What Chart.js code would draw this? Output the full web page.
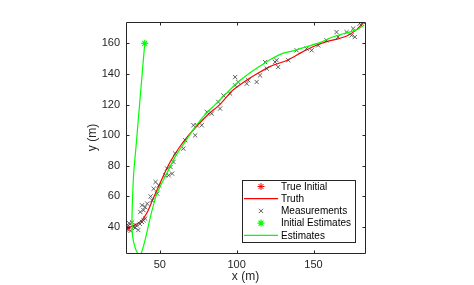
<!DOCTYPE html>
<html>
<head>
<meta charset="utf-8">
<script src="https://cdn.jsdelivr.net/npm/chart.js@4.4.0/dist/chart.umd.min.js"></script>
<style>
  html, body { margin: 0; padding: 0; background: #fff; }
  canvas { display: block; }
</style>
</head>
<body>
<canvas id="track" width="474" height="285"></canvas>
<script>
// values, in metres
var trueInitX = [28.6];
var trueInitY = [39];

var truthX = [28.6, 33, 38, 42, 45, 49, 53, 57, 62, 68, 75, 82, 89, 97, 105, 113, 122, 133, 142, 150, 158, 166, 172, 178, 182.5];
var truthY = [39, 41, 44, 50, 57, 66, 75, 83, 91, 99, 107, 114, 120, 129, 135, 140, 145, 149, 154, 158, 161, 163, 165, 169, 173.5];

var measX = [28.6, 29.7, 31, 32, 33, 35, 36, 37, 38.4, 39.4, 40.5, 34, 30,
             37.3, 39.4, 40.5, 38.4, 41.8, 45, 44, 47.2, 48.3, 49.4, 46,
             53.7, 54.8, 57, 55.7, 58, 58.9,
             60, 65.4, 66.5, 73, 71.9, 74, 77.3, 80.6, 83.8, 89.2, 88.1, 91.4, 95.7, 99, 101,
             99, 106.6, 107.6, 113, 115.2, 118.5, 119.6, 125, 126, 127, 133.6, 139,
             145.5, 148.8, 153, 158.5, 165, 166, 171.5, 174.8, 175.8, 176.9, 180, 182.3];
var measY = [39, 41, 37.5, 43, 40, 41, 38, 42, 43.3, 44.4, 45.5, 39.5, 42.5,
             49.8, 51, 53, 54.2, 55.3, 57.4, 60, 69.4, 61.8, 67.2, 65,
             73.8, 78.2, 79.2, 73.8, 74.9, 82.5,
             88, 91.2, 96.7, 99.9, 106.5, 106.5, 106.5, 115.2, 114.1, 117.4, 121.7, 126, 127.2, 132.6, 134.8,
             138, 133.7, 135.9, 134.8, 139.1, 147.8, 143.5, 147.8, 149, 144.6, 149, 155.5,
             156.6, 155.5, 158.7, 162, 167.4, 164.2, 167.4, 165.3, 169.7, 164.2, 172.9, 174];

var initEstX = [40.2];
var initEstY = [160];

var estX = [40.2, 37.5, 34.3, 33, 32.3, 31.9, 32.2, 33.5, 35.5, 37.5, 39.5, 41.5, 43.5, 45.5, 47.5, 50, 53, 56, 60, 66, 72, 79, 86, 93, 100, 107, 115, 122, 130, 138, 146, 154, 162, 170, 177, 183];
var estY = [160, 128, 90, 75, 60, 45, 35, 28, 23, 22, 28, 36, 45, 53, 60, 66, 72, 78, 86, 95, 104, 113, 120, 127, 134, 139.5, 145, 149.5, 153.5, 155.5, 158, 160.5, 164, 166.5, 168.5, 172];

var xTicks = [50, 100, 150];
var yTicks = [40, 60, 80, 100, 120, 140, 160];
var xLimits = [28, 183.5];
var yLimits = [23, 174];

var axisColor = '#262626';
var fontFamily = '"Liberation Sans", Arial, Helvetica, sans-serif';

function pts(xs, ys) {
  return xs.map(function (x, i) { return { x: x, y: ys[i] }; });
}

// box round the axes, inward ticks on all four sides, and the legend
var framePlugin = {
  id: 'frame',
  afterDraw: function (chart) {
    var a = chart.chartArea, ctx = chart.ctx;
    var sx = chart.scales.x, sy = chart.scales.y;
    var L = Math.round(a.left) + 0.5, R = Math.round(a.right) + 0.5;
    var T = Math.round(a.top) + 0.5, B = Math.round(a.bottom) + 0.5;
    ctx.save();
    ctx.strokeStyle = axisColor;
    ctx.lineWidth = 1;
    ctx.beginPath();
    ctx.rect(L, T, R - L, B - T);
    xTicks.forEach(function (v) {
      var p = Math.round(sx.getPixelForValue(v)) + 0.5;
      ctx.moveTo(p, B); ctx.lineTo(p, B - 3);
      ctx.moveTo(p, T); ctx.lineTo(p, T + 3);
    });
    yTicks.forEach(function (v) {
      var p = Math.round(sy.getPixelForValue(v)) + 0.5;
      ctx.moveTo(L, p); ctx.lineTo(L + 3, p);
      ctx.moveTo(R, p); ctx.lineTo(R - 3, p);
    });
    ctx.stroke();

    // legend box
    var bx = 242.5, by = 180.5, bw = 113, bh = 62;
    ctx.fillStyle = '#fff';
    ctx.fillRect(bx, by, bw, bh);
    ctx.strokeStyle = axisColor;
    ctx.strokeRect(bx, by, bw, bh);
    ctx.font = '10px ' + fontFamily;
    ctx.textBaseline = 'middle';
    ctx.textAlign = 'left';
    chart.data.datasets.forEach(function (ds, i) {
      var y = 186.5 + i * 12.2;
      if (ds.showLine) {
        ctx.strokeStyle = ds.borderColor;
        ctx.lineWidth = ds.borderWidth;
        ctx.beginPath();
        ctx.moveTo(244, y); ctx.lineTo(278, y);
        ctx.stroke();
      } else {
        ctx.strokeStyle = ds.borderColor;
        ctx.fillStyle = ds.borderColor;
        ctx.lineWidth = ds.pointBorderWidth;
        Chart.helpers.drawPoint(ctx, {
          pointStyle: ds.pointStyle, radius: ds.pointRadius,
          borderWidth: ds.pointBorderWidth, rotation: 0
        }, 261, y);
      }
      ctx.fillStyle = '#000';
      ctx.fillText(ds.label, 281, y + 0.5);
    });
    ctx.restore();
  }
};

new Chart(document.getElementById('track'), {
  type: 'scatter',
  data: {
    datasets: [{
      label: 'True Initial',
      data: pts(trueInitX, trueInitY),
      showLine: false,
      pointStyle: 'star',
      pointRadius: 3.5,
      pointBorderWidth: 1,
      borderColor: '#ff0000',
      backgroundColor: '#ff0000',
      order: 4
    }, {
      label: 'Truth',
      data: pts(truthX, truthY),
      showLine: true,
      pointRadius: 0,
      borderWidth: 1.2,
      borderColor: '#ff0000',
      tension: 0.25,
      order: 3
    }, {
      label: 'Measurements',
      data: pts(measX, measY),
      showLine: false,
      pointStyle: 'crossRot',
      pointRadius: 3,
      pointBorderWidth: 0.8,
      borderColor: '#3a3a3a',
      backgroundColor: '#3a3a3a',
      order: 2
    }, {
      label: 'Initial Estimates',
      data: pts(initEstX, initEstY),
      showLine: false,
      pointStyle: 'star',
      pointRadius: 3.5,
      pointBorderWidth: 1.2,
      borderColor: '#00ff00',
      backgroundColor: '#00ff00',
      order: 1
    }, {
      label: 'Estimates',
      data: pts(estX, estY),
      showLine: true,
      pointRadius: 0,
      borderWidth: 1.2,
      borderColor: '#00ff00',
      tension: 0.2,
      order: 0
    }]
  },
  options: {
    responsive: false,
    animation: false,
    events: [],
    layout: { padding: { left: 81, right: 109, top: 22, bottom: 0 } },
    plugins: { legend: { display: false }, tooltip: { enabled: false } },
    scales: {
      x: {
        type: 'linear',
        min: xLimits[0], max: xLimits[1],
        afterBuildTicks: function (s) { s.ticks = xTicks.map(function (v) { return { value: v }; }); },
        afterFit: function (s) { s.height = 32; },
        grid: { display: false, drawTicks: false },
        border: { display: false },
        ticks: { color: axisColor, padding: 5, maxRotation: 0, font: { family: fontFamily, size: 11 } },
        title: { display: true, text: 'x (m)', color: axisColor, padding: { top: 4, bottom: 1 }, font: { family: fontFamily, size: 12 } }
      },
      y: {
        type: 'linear',
        min: yLimits[0], max: yLimits[1],
        afterBuildTicks: function (s) { s.ticks = yTicks.map(function (v) { return { value: v }; }); },
        afterFit: function (s) { s.width = 45; },
        grid: { display: false, drawTicks: false },
        border: { display: false },
        ticks: { color: axisColor, padding: 6, font: { family: fontFamily, size: 11 } },
        title: { display: true, text: 'y (m)', color: axisColor, padding: { top: 4, bottom: 4 }, font: { family: fontFamily, size: 12 } }
      }
    }
  },
  plugins: [framePlugin]
});
</script>
</body>
</html>
